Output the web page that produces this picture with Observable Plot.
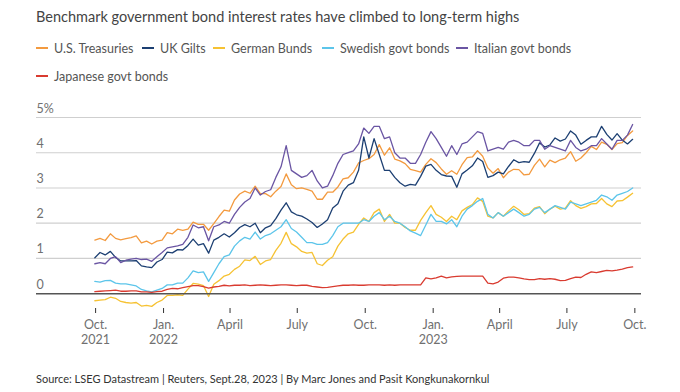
<!DOCTYPE html>
<html><head><meta charset="utf-8">
<script src="https://cdn.jsdelivr.net/npm/d3@7"></script>
<script src="https://cdn.jsdelivr.net/npm/@observablehq/plot@0.6"></script>
<style>
body{margin:0;background:#fff;font-family:Lato,"Open Sans",sans-serif;width:680px;height:392px;overflow:hidden;position:relative}
#title{position:absolute;left:36px;top:8px;font-size:14.5px;color:#444;white-space:nowrap}
.leg{position:absolute;font-size:12.5px;color:#555;display:flex;align-items:center;white-space:nowrap;height:16px}
.sw{display:inline-block;width:12px;height:2px;margin-right:6px}
#chart{position:absolute;left:0;top:95px}
#src{position:absolute;left:36px;top:372px;font-size:11px;color:#333;white-space:nowrap}
</style></head>
<body>
<div id="title">Benchmark government bond interest rates have climbed to long-term highs</div>
<div id="legend"></div>
<div id="chart"></div>
<div id="src">Source: LSEG Datastream | Reuters, Sept.28, 2023 | By Marc Jones and Pasit Kongkunakornkul</div>
<script>
const seriesNames = ["U.S. Treasuries","UK Gilts","German Bunds","Swedish govt bonds","Italian govt bonds","Japanese govt bonds"];
const seriesColors = ["#f39a3f","#1c3f72","#f6c233","#5cc5ea","#6a55a3","#d93b30"];

// weekly observations, Thursdays from 2021-09-30 to 2023-09-28
const firstDate = "2021-09-30";
const weekCount = 105;

const usTreasuries = [1.52,1.57,1.51,1.70,1.57,1.53,1.56,1.59,1.64,1.44,1.49,1.41,1.49,1.52,
1.73,1.70,1.83,1.80, 1.83,2.03,1.97,1.97, 1.80,1.99,2.19,2.37,2.34, 2.66,2.83,2.91,2.85, 3.05,2.84,2.84,2.75, 2.91,3.04,3.40,3.09,2.98, 3.00,2.96,2.91,2.68, 2.68,2.88,2.88,3.03, 3.26,3.29,3.45,3.71,3.78, 3.83,3.95,4.23,3.93, 4.14,3.82,3.77,3.69, 3.53,3.49,3.45,3.67,3.83,
3.72,3.54,3.39,3.49, 3.39,3.66,3.86,3.88, 4.06,3.90,3.57,3.42,3.55, 3.29,3.45,3.53,3.52, 3.37,3.39,3.64,3.82, 3.60,3.79,3.72,3.80,3.85, 4.03,3.76,3.85,4.00, 4.18,4.09,4.30,4.24,4.09, 4.26,4.29,4.49,4.62];
const ukGilts = [1.02,1.17,1.10,1.20,1.03,0.93,0.93,0.93,0.94,0.79,0.76,0.74,0.90,0.97,
1.18,1.16,1.25,1.24, 1.37,1.55,1.38,1.42, 1.15,1.52,1.60,1.70,1.61, 1.73,1.88,1.96,1.90, 2.00,1.73,1.87,1.93, 2.13,2.37,2.58,2.32,2.24, 2.20,2.12,2.02,1.88, 1.98,2.10,2.43,2.55, 2.91,3.08,3.15,3.50,4.45, 3.85,4.40,3.95,3.50, 3.50,3.30,3.15,3.05, 3.10,3.08,3.33,3.62,3.67,
3.50,3.38,3.34,3.33, 3.02,3.40,3.51,3.63, 3.85,3.75,3.30,3.35,3.45, 3.40,3.61,3.80,3.72, 3.75,3.73,3.98,4.28, 4.16,4.22,4.42,4.33,4.39, 4.62,4.50,4.24,4.35, 4.45,4.45,4.75,4.52,4.36, 4.54,4.36,4.25,4.38];
const germanBunds = [-0.20,-0.18,-0.17,-0.10,-0.13,-0.22,-0.25,-0.27,-0.25,-0.35,-0.33,-0.36,-0.25,-0.18,
-0.05,-0.05,-0.03,-0.05, 0.13,0.29,0.27,0.23, -0.08,0.27,0.37,0.50,0.55, 0.69,0.78,0.96,0.94, 1.06,0.83,0.93,0.97, 1.23,1.43,1.74,1.42,1.33, 1.20,1.15,1.17,0.85, 0.80,0.95,1.05,1.35, 1.55,1.70,1.75,1.97,2.15, 2.05,2.30,2.40,2.05, 2.25,2.00,2.00,1.88, 1.80,1.80,2.08,2.30,2.50,
2.25,2.17,2.05,2.20, 2.10,2.35,2.45,2.53, 2.72,2.62,2.20,2.15,2.30, 2.20,2.35,2.48,2.38, 2.25,2.27,2.43,2.47, 2.27,2.40,2.48,2.40,2.43, 2.64,2.50,2.42,2.47, 2.55,2.56,2.70,2.55,2.47, 2.63,2.64,2.74,2.85];
const swedishBonds = [0.35,0.33,0.37,0.38,0.30,0.28,0.28,0.25,0.22,0.12,0.08,0.05,0.10,0.15,
0.25,0.25,0.30,0.30, 0.45,0.65,0.60,0.62, 0.35,0.60,0.85,1.05,1.10, 1.35,1.50,1.60,1.55, 1.75,1.55,1.65,1.70, 1.80,1.90,2.10,1.85,1.75, 1.60,1.45,1.45,1.40, 1.40,1.45,1.65,1.90, 2.00,2.00,2.00,2.00,2.10, 2.05,2.20,2.30,2.10, 2.20,2.05,2.00,1.90, 1.78,1.72,1.65,1.95,2.25,
2.05,2.05,1.98,2.10, 1.90,2.20,2.40,2.50, 2.62,2.70,2.25,2.15,2.30, 2.20,2.30,2.40,2.30, 2.20,2.25,2.40,2.45, 2.30,2.40,2.50,2.45,2.40, 2.60,2.55,2.50,2.55, 2.60,2.65,2.80,2.75,2.65, 2.80,2.85,2.90,3.00];
const italianBonds = [0.85,0.88,0.85,1.00,1.05,0.88,0.95,0.98,1.00,0.97,0.98,0.92,1.05,1.17,
1.30,1.33,1.36,1.40, 1.60,1.95,1.87,1.90, 1.50,1.90,1.95,2.05,2.00, 2.25,2.45,2.60,2.70, 3.00,2.80,2.90,2.95, 3.30,3.60,4.20,3.50,3.40, 3.30,3.35,3.50,3.20, 3.00,3.05,3.35,3.70, 3.95,4.00,4.05,4.25,4.70, 4.55,4.75,4.75,4.40, 4.45,4.00,3.85,3.85, 3.70,3.70,3.95,4.30,4.60,
4.40,4.15,3.90,4.20, 3.95,4.25,4.30,4.45, 4.60,4.55,4.05,4.10,4.15, 4.10,4.30,4.35,4.30, 4.20,4.20,4.35,4.35, 4.10,4.20,4.15,4.10,4.05, 4.35,4.15,4.05,4.10, 4.20,4.20,4.40,4.25,4.10, 4.35,4.35,4.50,4.80];
const japaneseBonds = [0.06,0.07,0.08,0.09,0.10,0.07,0.07,0.08,0.08,0.05,0.05,0.04,0.06,0.07,
0.12,0.15,0.14,0.17, 0.20,0.23,0.23,0.20, 0.16,0.19,0.21,0.24,0.22, 0.24,0.24,0.25,0.23, 0.24,0.25,0.24,0.23, 0.24,0.25,0.25,0.24,0.23, 0.24,0.24,0.21,0.19, 0.17,0.18,0.20,0.22, 0.24,0.24,0.25,0.24,0.24, 0.25,0.25,0.25,0.24, 0.25,0.24,0.25,0.25, 0.25,0.25,0.25,0.45,0.42,
0.45,0.50,0.45,0.48, 0.49,0.50,0.50,0.50, 0.50,0.50,0.30,0.28,0.33, 0.44,0.47,0.47,0.45, 0.42,0.40,0.40,0.43, 0.41,0.43,0.41,0.37,0.38, 0.43,0.47,0.46,0.55, 0.62,0.60,0.63,0.66,0.65, 0.67,0.70,0.74,0.76];

const yTicks = [0,1,2,3,4,5];
const yTickLabels = ["0","1","2","3","4","5%"];
const xTickDates = ["2021-10-01","2022-01-01","2022-04-01","2022-07-01","2022-10-01","2023-01-01","2023-04-01","2023-07-01","2023-10-01"];
const xTickLabels = ["Oct.\n2021","Jan.\n2022","April","July","Oct.","Jan.\n2023","April","July","Oct."];

const allValues = [usTreasuries, ukGilts, germanBunds, swedishBonds, italianBonds, japaneseBonds];
const t0 = new Date(firstDate + "T00:00:00Z");
const dates = d3.range(weekCount).map(i => d3.utcDay.offset(t0, 7 * i));
const rows = [];
allValues.forEach((vals, k) => vals.forEach((v, i) => rows.push({date: dates[i], value: v, series: seriesNames[k]})));

// legend
const legendPos = [[36,40],[142,40],[213,40],[322,40],[456,40],[36,68]];
const legend = document.getElementById("legend");
seriesNames.forEach((n, i) => {
  const d = document.createElement("div");
  d.className = "leg";
  d.style.left = legendPos[i][0] + "px";
  d.style.top = legendPos[i][1] + "px";
  d.innerHTML = `<span class="sw" style="background:${seriesColors[i]}"></span>${n}`;
  legend.appendChild(d);
});

const tickDates = xTickDates.map(s => new Date(s + "T00:00:00Z"));
const tickLabelMap = new Map(tickDates.map((d, i) => [+d, xTickLabels[i]]));

const chart = Plot.plot({
  width: 680,
  height: 262,
  marginLeft: 36,
  marginRight: 39,
  marginTop: 22,
  marginBottom: 49,
  style: {fontFamily: "Lato, 'Open Sans', sans-serif", fontSize: "12.5px", color: "#707070", background: "#fff"},
  x: {type: "utc", domain: [new Date("2021-07-13T00:00:00Z"), new Date("2023-10-10T00:00:00Z")]},
  y: {domain: [-0.42, 5]},
  color: {domain: seriesNames, range: seriesColors},
  marks: [
    Plot.ruleY(yTicks.filter(d => d !== 0), {stroke: "#cfcfcf", strokeWidth: 1.2}),
    Plot.text(yTicks, {y: d => d, frameAnchor: "left", text: (d, i) => yTickLabels[i], textAnchor: "start", dy: -9, fill: "#707070", fontSize: 12.5}),
    Plot.lineY(rows, {x: "date", y: "value", stroke: "series", z: "series", strokeWidth: 1.3}),
    Plot.ruleY([0], {stroke: "#555", strokeWidth: 1.5}),
    Plot.axisX({ticks: tickDates, tickFormat: d => tickLabelMap.get(+d), tickSize: 5, tickPadding: 5, stroke: "#333", fill: "#707070", fontSize: 12.5, lineHeight: 1.2, label: null}),
    Plot.axisY({ticks: [], label: null})
  ]
});
document.getElementById("chart").appendChild(chart);
</script>
</body></html>
